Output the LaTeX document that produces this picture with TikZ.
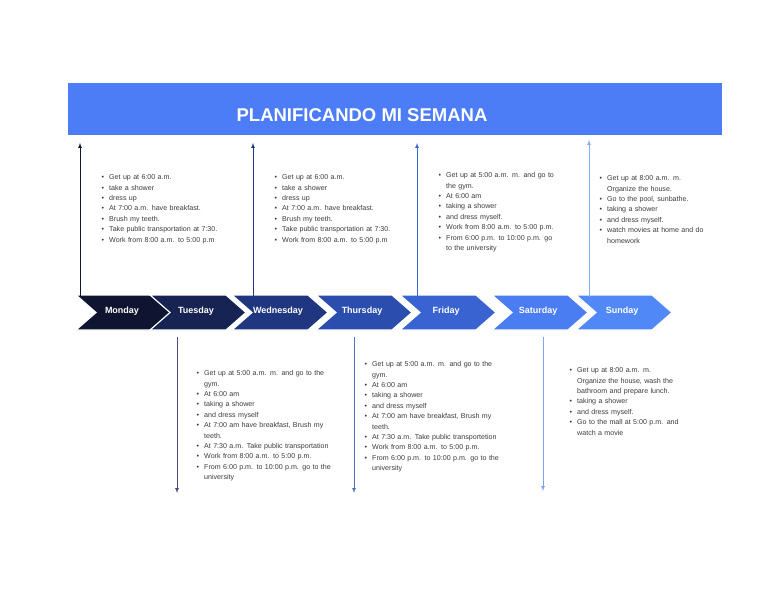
\documentclass[tikz,border=0pt]{standalone}
\usepackage{fontspec}
\setmainfont{Liberation Sans}
\usepackage{enumitem}
\setlist[itemize]{leftmargin=10pt,itemsep=0pt,topsep=0pt,parsep=0pt,partopsep=0pt,label=\textbullet}
\definecolor{cMon}{HTML}{0F1430}
\definecolor{cTue}{HTML}{172352}
\definecolor{cWed}{HTML}{203680}
\definecolor{cThu}{HTML}{2B4DAE}
\definecolor{cFri}{HTML}{3A63D2}
\definecolor{cSat}{HTML}{4A7CF2}
\definecolor{cSun}{HTML}{5088F8}
\definecolor{titleblue}{HTML}{4C7DF6}
\definecolor{txt}{HTML}{3C3C3C}
\tikzset{
  daytext/.style={font=\fontsize{7.1}{10.4}\selectfont, text=txt, text width=#1, anchor=north west, inner sep=0pt},
  dayname/.style={font=\bfseries\fontsize{9}{10}\selectfont, text=white},
  stem/.style={-latex, line width=0.7pt}
}
\begin{document}
\begin{tikzpicture}[x=1pt,y=-1pt]
\useasboundingbox (0,0) rectangle (768,594);
\fill[white] (0,0) rectangle (768,594);
% title
\fill[titleblue] (68,83) rectangle (722,135);
\node[font=\bfseries\fontsize{18.5}{20}\selectfont, text=white] (title) at (362,115) {PLANIFICANDO MI SEMANA};
% chevrons
\foreach \L/\c/\n/\lab in {76/cMon/mon/Monday,150/cTue/tue/Tuesday,232/cWed/wed/Wednesday,316/cThu/thu/Thursday,400/cFri/fri/Friday,492/cSat/sat/Saturday,576/cSun/sun/Sunday}{
  \filldraw[fill=\c, draw=white, line width=1.2pt, line join=miter] (\L,295) -- ++(76,0) -- ++(20,17.5) -- ++(-20,17.5) -- ++(-76,0) -- ++(20,-17.5) -- cycle;
  \node[dayname] (\n) at (\L+46,311) {\lab};
}
% stems
\coordinate (monB) at (80,297);   \coordinate (monT) at (80,143);
\coordinate (wedB) at (253,297);  \coordinate (wedT) at (253,143);
\coordinate (friB) at (417,297);  \coordinate (friT) at (417,143);
\coordinate (sunB) at (589,297);  \coordinate (sunT) at (589,140);
\coordinate (tueT) at (177,337);  \coordinate (tueB) at (177,493);
\coordinate (thuT) at (354,337);  \coordinate (thuB) at (354,493);
\coordinate (satT) at (543,337);  \coordinate (satB) at (543,491);
\draw[stem, cMon] (monB) -- (monT);
\draw[stem, cWed] (wedB) -- (wedT);
\draw[stem, cFri] (friB) -- (friT);
\draw[stem, cSun!70] (sunB) -- (sunT);
\draw[stem, cTue!80] (tueT) -- (tueB);
\draw[stem, cThu!80] (thuT) -- (thuB);
\draw[stem, cSat!70] (satT) -- (satB);
% lists
\node[daytext=125pt] (monL) at (99,169) {\begin{itemize}
\item Get up at 6:00 a.m.
\item take a shower
\item dress up
\item At 7:00 a.m. have breakfast.
\item Brush my teeth.
\item Take public transportation at 7:30.
\item Work from 8:00 a.m. to 5:00 p.m
\end{itemize}};
\node[daytext=125pt] (wedL) at (272,169) {\begin{itemize}
\item Get up at 6:00 a.m.
\item take a shower
\item dress up
\item At 7:00 a.m. have breakfast.
\item Brush my teeth.
\item Take public transportation at 7:30.
\item Work from 8:00 a.m. to 5:00 p.m
\end{itemize}};
\node[daytext=122pt] (friL) at (436,167) {\begin{itemize}
\item Get up at 5:00 a.m. m. and go to the gym.
\item At 6:00 am
\item taking a shower
\item and dress myself.
\item Work from 8:00 a.m. to 5:00 p.m.
\item From 6:00 p.m. to 10:00 p.m. go to the university
\end{itemize}};
\node[daytext=112pt] (sunL) at (597,170) {\begin{itemize}
\item Get up at 8:00 a.m. m. Organize the house.
\item Go to the pool, sunbathe.
\item taking a shower
\item and dress myself.
\item  watch movies at home and do homework
\end{itemize}};
\node[daytext=140pt] (tueL) at (194,365) {\begin{itemize}
\item Get up at 5:00 a.m. m. and go to the gym.
\item At 6:00 am
\item taking a shower
\item and dress myself
\item At 7:00 am have breakfast, Brush my teeth.
\item At 7:30 a.m. Take public transportation
\item Work from 8:00 a.m. to 5:00 p.m.
\item From 6:00 p.m. to 10:00 p.m. go to the university
\end{itemize}};
\node[daytext=140pt] (thuL) at (362,356) {\begin{itemize}
\item Get up at 5:00 a.m. m. and go to the gym.
\item At 6:00 am
\item taking a shower
\item and dress myself
\item At 7:00 am have breakfast, Brush my teeth.
\item At 7:30 a.m. Take public transportetion
\item Work from 8:00 a.m. to 5:00 p.m.
\item From 6:00 p.m. to 10:00 p.m. go to the university
\end{itemize}};
\node[daytext=112pt] (satL) at (567,362) {\begin{itemize}
\item Get up at 8:00 a.m. m. Organize the house, wash the bathroom and prepare lunch.
\item taking a shower
\item and dress myself.
\item Go to the mall at 5:00 p.m. and watch a movie
\end{itemize}};
\end{tikzpicture}
\end{document}
